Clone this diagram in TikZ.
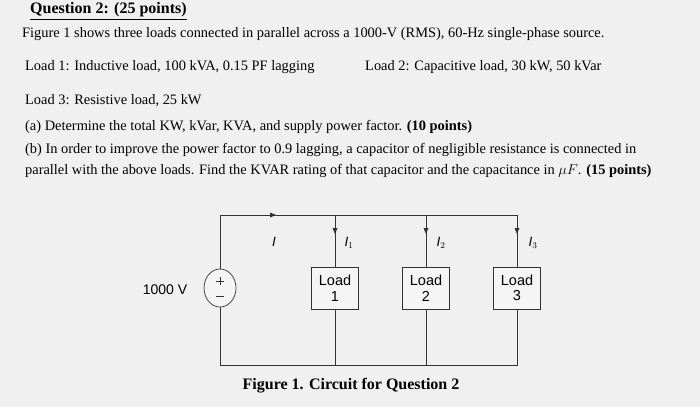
\documentclass[tikz,border=0pt]{standalone}
\usepackage{fontspec}
\setmainfont{Liberation Serif}
\setsansfont{Liberation Sans}
\usepackage{amsmath}
\usetikzlibrary{shapes.geometric}
\begin{document}
\begin{tikzpicture}[x=1pt,y=-1pt,
  txt/.style={anchor=west,inner sep=0pt,font=\fontsize{14.4}{16}\selectfont},
  wire/.style={line width=0.7pt,black!80},
  loadbox/.style={draw=black!80,line width=0.7pt,fill=black!4,minimum width=47pt,minimum height=42pt,align=center,font=\sffamily\fontsize{14.5}{15.5}\selectfont,inner sep=1pt},
  clab/.style={font=\sffamily\itshape\fontsize{13.5}{14}\selectfont,inner sep=0pt},
  sign/.style={line width=1pt,black!80}]
\fill[black!6] (0,0) rectangle (700,407);
\useasboundingbox (0,0) rectangle (700,407);
\node[txt,font=\bfseries\fontsize{16}{18}\selectfont] (title) at (30,11) {\underline{Question 2: (25 points)}};
\node[txt] (l1) at (22,34) {Figure 1 shows three loads connected in parallel across a 1000-V (RMS), 60-Hz single-phase source.};
\node[txt] (l2) at (25,67) {Load 1: Inductive load, 100 kVA, 0.15 PF lagging};
\node[txt] (l2b) at (365,67) {Load 2: Capacitive load, 30 kW, 50 kVar};
\node[txt] (l3) at (25,101) {Load 3: Resistive load, 25 kW};
\node[txt] (l4) at (25,127) {(a) Determine the total KW, kVar, KVA, and supply power factor. \textbf{(10 points)}};
\node[txt] (l5) at (25,150) {(b) In order to improve the power factor to 0.9 lagging, a capacitor of negligible resistance is connected in};
\node[txt] (l6) at (25,171) {parallel with the above loads. Find the KVAR rating of that capacitor and the capacitance in $\mu F$. \textbf{(15 points)}};
% circuit
\coordinate (tl) at (220,215);
\coordinate (bl) at (220,365);
\coordinate (t1) at (335,215);
\coordinate (t2) at (426,215);
\coordinate (t3) at (517,215);
\coordinate (b1) at (335,365);
\coordinate (b2) at (426,365);
\coordinate (b3) at (517,365);
\node[draw=black!80,line width=0.7pt,fill=black!4,ellipse,minimum width=32pt,minimum height=38pt,inner sep=0pt] (src) at (220,288) {};
\draw[sign] ([xshift=-4pt,yshift=7pt]src.center) -- ([xshift=4pt,yshift=7pt]src.center)
  ([yshift=3pt]src.center) -- ([yshift=11pt]src.center);
\draw[sign] ([xshift=-4pt,yshift=-8pt]src.center) -- ([xshift=4pt,yshift=-8pt]src.center);
\node[loadbox] (L1) at (335,288) {Load\\1};
\node[loadbox] (L2) at (426,288) {Load\\2};
\node[loadbox] (L3) at (517,288) {Load\\3};
\draw[wire] (src.north) -- (tl) -- (t3) -- (L3.north);
\draw[wire] (src.south) -- (bl) -- (b3) -- (L3.south);
\draw[wire] (t1) -- (L1.north); \draw[wire] (L1.south) -- (b1);
\draw[wire] (t2) -- (L2.north); \draw[wire] (L2.south) -- (b2);
\fill[black!80] (276,215) -- (270,212.5) -- (270,217.5) -- cycle;
\foreach \x in {335,426,517}{\fill[black!80] (\x,234) -- (\x-2.5,228) -- (\x+2.5,228) -- cycle;}
\node[clab] (I) at (274,242) {I};
\node[clab] (I1) at (349,243) {I$_1$};
\node[clab] (I2) at (441,243) {I$_2$};
\node[clab] (I3) at (533,243) {I$_3$};
\node[font=\sffamily\fontsize{14}{15}\selectfont,inner sep=0pt] (v) at (165,290) {1000 V};
\node[font=\bfseries\fontsize{16}{17}\selectfont,inner sep=0pt] (cap) at (351,386) {Figure 1. Circuit for Question 2};
\end{tikzpicture}
\end{document}
